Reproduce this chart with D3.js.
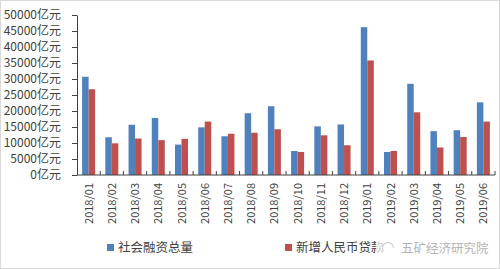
<!DOCTYPE html>
<html>
<head>
<meta charset="utf-8">
<script src="https://cdn.jsdelivr.net/npm/d3@7"></script>
<style>
  body { margin: 0; background: #fff; }
  text { font-family: "Noto Sans CJK SC", "DejaVu Sans", sans-serif; }
</style>
</head>
<body>
<svg id="chart" width="500" height="269"></svg>
<script>
const months = ["2018/01", "2018/02", "2018/03", "2018/04", "2018/05", "2018/06",
  "2018/07", "2018/08", "2018/09", "2018/10", "2018/11", "2018/12",
  "2019/01", "2019/02", "2019/03", "2019/04", "2019/05", "2019/06"];
const socialFinancing = [30700, 11800, 15700, 17800, 9500, 14900, 12100, 19300, 21500, 7500,
  15200, 15800, 46200, 7200, 28500, 13700, 14000, 22700];
const newLoans = [26800, 9900, 11400, 10900, 11300, 16700, 12900, 13200, 14300, 7200,
  12400, 9300, 35800, 7500, 19600, 8600, 11900, 16700];
const seriesNames = ["社会融资总量", "新增人民币贷款"];
const yTicks = [0, 5000, 10000, 15000, 20000, 25000, 30000, 35000, 40000, 45000, 50000];

const colorMap = { "社会融资总量": "#4f81bd", "新增人民币贷款": "#c0504d" };

const margin = { top: 15, left: 77, right: 5 };
const width = 500 - margin.left - margin.right;
const height = 160;

const svg = d3.select("#chart");

// light frame around the picture
svg.append("rect")
  .attr("x", 0.5).attr("y", 0.5)
  .attr("width", 499).attr("height", 268)
  .attr("fill", "none")
  .attr("stroke", "#d9d9d9");

const g = svg.append("g").attr("transform", `translate(${margin.left},${margin.top})`);

const x = d3.scaleBand().domain(months).range([0, width]).paddingInner(0.44).paddingOuter(0.22);
const xSub = d3.scaleBand().domain(seriesNames).range([0, x.bandwidth()]);
const y = d3.scaleLinear().domain([0, 50000]).range([height, 0]);

const rows = months.map((m, i) => ({ month: m, values: [socialFinancing[i], newLoans[i]] }));

g.selectAll(".group")
  .data(rows)
  .join("g")
  .attr("class", "group")
  .attr("transform", (d) => `translate(${x(d.month)},0)`)
  .selectAll("rect")
  .data((d) => d.values.map((v, i) => ({ key: seriesNames[i], value: v })))
  .join("rect")
  .attr("x", (d) => xSub(d.key))
  .attr("width", xSub.bandwidth())
  .attr("y", (d) => y(d.value))
  .attr("height", (d) => height - y(d.value))
  .attr("fill", (d) => colorMap[d.key]);

// y axis
const yAxis = d3.axisLeft(y)
  .tickValues(yTicks)
  .tickFormat((d) => d + "亿元")
  .tickSize(5)
  .tickSizeOuter(0)
  .tickPadding(11);

g.append("g")
  .attr("class", "y-axis")
  .call(yAxis)
  .call((a) => a.select(".domain").attr("stroke", "#404040"))
  .call((a) => a.selectAll(".tick line").attr("stroke", "#404040"))
  .call((a) => a.selectAll("text")
    .attr("fill", "#404040")
    .style("font-size", "12px"));

// x axis: ticks sit between the categories and point up
const step = x.step();
const boundaries = d3.range(months.length + 1).map((i) => i * step);

const xg = g.append("g").attr("class", "x-axis").attr("transform", `translate(0,${height})`);
xg.append("line")
  .attr("x1", 0).attr("x2", width)
  .attr("stroke", "#404040");
xg.selectAll(".tickmark")
  .data(boundaries.slice(1))
  .join("line")
  .attr("class", "tickmark")
  .attr("x1", (d) => d).attr("x2", (d) => d)
  .attr("y1", 0).attr("y2", -4)
  .attr("stroke", "#404040");

xg.selectAll(".label")
  .data(months)
  .join("text")
  .attr("class", "label")
  .attr("transform", (d) => `translate(${x(d) + x.bandwidth() / 2 + 4},8) rotate(-90)`)
  .attr("text-anchor", "end")
  .attr("fill", "#404040")
  .style("font-size", "11px")
  .text((d) => d);

// legend
const legend = svg.append("g").attr("class", "legend");
const legendX = [107, 285];
seriesNames.forEach((name, i) => {
  legend.append("rect")
    .attr("x", legendX[i]).attr("y", 244)
    .attr("width", 7).attr("height", 7)
    .attr("fill", colorMap[name]);
  legend.append("text")
    .attr("x", legendX[i] + 11).attr("y", 252)
    .attr("fill", "#404040")
    .style("font-size", "12.5px")
    .text(name);
});

// watermark, partly covering the end of the legend text
svg.append("rect")
  .attr("x", 376).attr("y", 239)
  .attr("width", 120).attr("height", 18)
  .attr("fill", "#fff").attr("opacity", 0.75);
svg.append("path")
  .attr("d", d3.arc()({ innerRadius: 5, outerRadius: 6, startAngle: -2.2, endAngle: 1.6 }))
  .attr("transform", "translate(388,248)")
  .attr("fill", "#c8c8c8");
svg.append("text")
  .attr("x", 401).attr("y", 253)
  .attr("fill", "#b4b4b4")
  .style("font-size", "12.5px")
  .text("五矿经济研究院");
</script>
</body>
</html>
